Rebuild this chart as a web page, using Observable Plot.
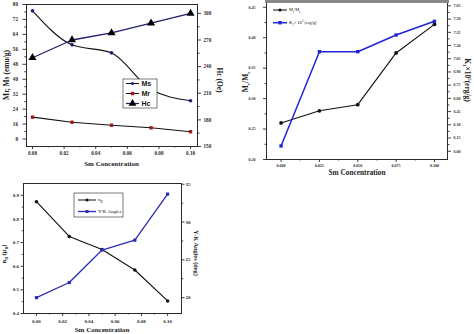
<!DOCTYPE html>
<html><head><meta charset="utf-8">
<script src="https://cdn.jsdelivr.net/npm/d3@7"></script>
<script src="https://cdn.jsdelivr.net/npm/@observablehq/plot@0.6"></script>
<style>
html,body{margin:0;padding:0;background:#fff;}
#root{position:relative;width:474px;height:334px;overflow:hidden;background:#fff;}
#root > svg{position:absolute;}
</style></head><body><div id="root"></div>
<script>
// ---- data ----
const sm = [0, 0.025, 0.05, 0.075, 0.1];
const ms = [76.6, 58.4, 54.1, 34.5, 28.5];
const mr = [19.7, 17.0, 15.4, 14.0, 11.9];
const hc = [250, 270, 278, 289, 300];
const ratio = [0.26, 0.28, 0.29, 0.375, 0.422];
const k1 = [6.06, 7.13, 7.13, 7.32, 7.475];
const nb = [0.873, 0.726, 0.671, 0.584, 0.453];
const yk = [20.0, 22.0, 26.3, 27.6, 33.7];
// ---- tick labels ----
const xTicksA = [0, 0.02, 0.04, 0.06, 0.08, 0.10];
const yTicksMs = [8, 16, 24, 32, 40, 48, 56, 64, 72, 80];
const yTicksHc = [150, 180, 210, 240, 270, 300];
const xTicksB = [0, 0.025, 0.05, 0.075, 0.1];
const yTicksRatio = [0.20, 0.25, 0.30, 0.35, 0.40, 0.45];
const yTicksK1 = [6.00, 6.15, 6.30, 6.45, 6.60, 6.75, 6.90, 7.05, 7.20, 7.35, 7.50, 7.65];
const xTicksC = [0, 0.02, 0.04, 0.06, 0.08, 0.10];
const yTicksNb = [0.4, 0.5, 0.6, 0.7, 0.8, 0.9];
const yTicksYk = [20, 25, 30, 35];

const mid = (t) => d3.pairs(t).map(([a, b]) => (a + b) / 2);
const root = document.getElementById("root");
const AX = "#2a2a2a";
const FONT = "Liberation Serif";

function layer(o) {
  const p = Plot.plot({
    width: o.width, height: o.height,
    marginLeft: o.m[3], marginRight: o.m[1], marginTop: o.m[0], marginBottom: o.m[2],
    x: {domain: o.x, axis: null},
    y: {domain: o.y, axis: null},
    style: {background: "transparent", overflow: "visible", fontFamily: FONT},
    marks: o.marks
  });
  p.style.left = o.left + "px";
  p.style.top = o.top + "px";
  root.appendChild(p);
}
function axes(o) {
  const res = [];
  if (o.xt) {
    res.push(Plot.axisX({ticks: o.xt, tickFormat: d3.format(o.xfmt), tickSize: o.xsize, tickPadding: o.xpad, fontSize: o.fs, fontWeight: "bold", color: AX, strokeWidth: 0.9, label: null}));
    res.push(Plot.axisX({ticks: mid(o.xt), tickFormat: () => "", tickSize: o.xsize / 2, color: AX, strokeWidth: 0.9, label: null}));
  }
  res.push(Plot.axisY({anchor: o.anchorY, ticks: o.yt, tickFormat: d3.format(o.yfmt), tickSize: o.ysize, tickPadding: o.ypad, fontSize: o.fs, fontWeight: "bold", color: AX, strokeWidth: 0.9, label: null}));
  res.push(Plot.axisY({anchor: o.anchorY, ticks: mid(o.yt), tickFormat: () => "", tickSize: o.ysize / 2, color: AX, strokeWidth: 0.9, label: null}));
  return res;
}

// ---------- Panel A (top-left) ----------
const rowsA = sm.map((x, i) => ({x, ms: ms[i], mr: mr[i], hc: hc[i]}));
const A = {left: 0, top: 0, width: 240, height: 170, m: [4, 43, 24, 26], x: [-0.0038, 0.1044]};
layer({...A, y: [4, 80], marks: [
  Plot.frame({stroke: AX, strokeWidth: 1}),
  ...axes({anchorY: "left", xt: xTicksA, xfmt: ".2f", yt: yTicksMs, yfmt: "d", fs: 5.2, xsize: 3, xpad: 2, ysize: 3.5, ypad: 5}),
  Plot.line(rowsA, {x: "x", y: "ms", stroke: "#111", strokeWidth: 1.1, curve: "monotone-x"}),
  Plot.dot(rowsA, {x: "x", y: "ms", r: 1.8, fill: "#1b1b7a", stroke: "none"}),
  Plot.line(rowsA, {x: "x", y: "mr", stroke: "#111", strokeWidth: 1.1}),
  Plot.dot(rowsA, {x: "x", y: "mr", r: 1.9, symbol: "square", fill: "#a01818", stroke: "none"})
]});
layer({...A, y: [150, 310], marks: [
  ...axes({anchorY: "right", yt: yTicksHc, yfmt: "d", fs: 5.2, ysize: 3, ypad: 3}),
  Plot.line(rowsA, {x: "x", y: "hc", stroke: "#1f1f6e", strokeWidth: 1.3}),
  Plot.dot(rowsA, {x: "x", y: "hc", r: 3, symbol: "triangle", fill: "#000", stroke: "none"})
]});

// ---------- Panel B (top-right) ----------
const rowsB = sm.map((x, i) => ({x, ratio: ratio[i], k1: k1[i]}));
const B = {left: 240, top: 0, width: 234, height: 180, m: [1, 27, 21, 26], x: [-0.0095, 0.1085]};
layer({...B, y: [0.20, 0.4595], marks: [
  Plot.frame({stroke: AX, strokeWidth: 1}),
  Plot.frame({anchor: "top", stroke: "#888", strokeWidth: 3}),
  ...axes({anchorY: "left", xt: xTicksB, xfmt: ".3f", yt: yTicksRatio, yfmt: ".2f", fs: 4, xsize: 3, xpad: 2, ysize: 3, ypad: 8}),
  Plot.line(rowsB, {x: "x", y: "ratio", stroke: "#111", strokeWidth: 1.1}),
  Plot.dot(rowsB, {x: "x", y: "ratio", r: 1.9, fill: "#111", stroke: "none"})
]});
layer({...B, y: [5.906, 7.70], marks: [
  ...axes({anchorY: "right", yt: yTicksK1, yfmt: ".2f", fs: 4, ysize: 3, ypad: 3}),
  Plot.line(rowsB, {x: "x", y: "k1", stroke: "#2323d8", strokeWidth: 1.5}),
  Plot.dot(rowsB, {x: "x", y: "k1", r: 1.9, symbol: "square", fill: "#2323d8", stroke: "none"})
]});

// ---------- Panel C (bottom-left) ----------
const rowsC = sm.map((x, i) => ({x, nb: nb[i], yk: yk[i]}));
const C = {left: 0, top: 170, width: 240, height: 164, m: [13, 59, 21, 23], x: [-0.0099, 0.1106]};
layer({...C, y: [0.4, 0.95], marks: [
  Plot.frame({stroke: AX, strokeWidth: 1}),
  ...axes({anchorY: "left", xt: xTicksC, xfmt: ".2f", yt: yTicksNb, yfmt: ".1f", fs: 5, xsize: 3, xpad: 3, ysize: 2.5, ypad: 2}),
  Plot.line(rowsC, {x: "x", y: "nb", stroke: "#111", strokeWidth: 1.1}),
  Plot.dot(rowsC, {x: "x", y: "nb", r: 1.8, fill: "#111", stroke: "none"})
]});
layer({...C, y: [17.9, 35.1], marks: [
  ...axes({anchorY: "right", yt: yTicksYk, yfmt: "d", fs: 5, ysize: 2.5, ypad: 1.5}),
  Plot.line(rowsC, {x: "x", y: "yk", stroke: "#2b2bb5", strokeWidth: 1.3}),
  Plot.dot(rowsC, {x: "x", y: "yk", r: 1.8, symbol: "square", fill: "#2b2bb5", stroke: "none"})
]});

// ---------- titles & legends overlay ----------
const ov = d3.create("svg").attr("width", 474).attr("height", 334)
  .style("left", "0px").style("top", "0px").style("pointer-events", "none");
function addParts(t, parts, size) {
  for (const p of parts) {
    const [s, kind] = Array.isArray(p) ? p : [p, null];
    const ts = t.append("tspan").text(s);
    if (kind === "sub") ts.attr("baseline-shift", "sub").attr("font-size", size * 0.65);
    if (kind === "sup") ts.attr("baseline-shift", "super").attr("font-size", size * 0.65);
  }
}
function title(x, y, rot, parts, size, weight, family) {
  const t = ov.append("text").attr("transform", `translate(${x},${y}) rotate(${rot})`)
    .attr("text-anchor", "middle").attr("dominant-baseline", "middle")
    .attr("font-family", family || FONT).attr("font-size", size).attr("font-weight", weight || "bold").attr("fill", "#222");
  addParts(t, parts, size);
  return t;
}
// Panel A
title(7, 75, -90, ["Mr, Ms (emu/g)"], 7.5);
title(219, 80, 90, ["Hc (Oe)"], 7.5);
title(111.5, 164, 0, ["Sm Concentration"], 7);
// Panel B
title(246, 82, -90, ["M", ["r", "sub"], "/M", ["s", "sub"]], 7.5);
title(467, 80, 90, ["K", ["1", "sub"], "×10", ["5", "sup"], "(erg/g)"], 7.5);
title(357, 173, 0, ["Sm Concentration"], 7.3);
// Panel C
title(5, 254, -90, ["n", ["B", "sub"], " (μ", ["B", "sub"], ")"], 6.5);
title(195, 253, 90, ["Y-K Angles (deg)"], 6.3);
title(102, 330, 0, ["Sm Concentration"], 7);

function sym(g, kind, x, y, color, r) {
  if (kind === "circle") g.append("circle").attr("cx", x).attr("cy", y).attr("r", r).attr("fill", color);
  else if (kind === "square") g.append("rect").attr("x", x - r).attr("y", y - r).attr("width", 2 * r).attr("height", 2 * r).attr("fill", color);
  else g.append("path").attr("d", d3.symbol(d3.symbolTriangle, r * r * 4)()).attr("transform", `translate(${x},${y})`).attr("fill", color);
}
function legend(box, entries, lx0, lx1, tx, size, weight, family) {
  const g = ov.append("g");
  if (box) g.append("rect").attr("x", box[0]).attr("y", box[1]).attr("width", box[2]).attr("height", box[3])
    .attr("fill", "#fff").attr("stroke", "#222").attr("stroke-width", 0.6);
  for (const e of entries) {
    g.append("line").attr("x1", lx0).attr("x2", lx1).attr("y1", e.y).attr("y2", e.y).attr("stroke", e.line).attr("stroke-width", e.w || 1);
    sym(g, e.sym, (lx0 + lx1) / 2, e.y, e.fill, e.r);
    const t = g.append("text").attr("x", tx).attr("y", e.y).attr("dominant-baseline", "middle")
      .attr("font-family", family).attr("font-size", size).attr("font-weight", weight).attr("fill", "#111");
    addParts(t, e.label, size);
  }
}
legend([123, 79, 34, 29], [
  {y: 83.5, line: "#111", sym: "circle", fill: "#1b1b7a", r: 1.6, label: ["Ms"]},
  {y: 93.5, line: "#111", sym: "square", fill: "#a01818", r: 1.7, label: ["Mr"]},
  {y: 103.5, line: "#1f1f6e", sym: "triangle", fill: "#000", r: 2.6, w: 1.2, label: ["Hc"]}
], 126, 139, 141.5, 7, "bold", "Liberation Sans");
legend(null, [
  {y: 10, line: "#111", sym: "circle", fill: "#111", r: 1.6, label: ["M", ["r", "sub"], "/M", ["s", "sub"]]},
  {y: 22.7, line: "#2323d8", sym: "square", fill: "#2323d8", r: 1.7, w: 1.5, label: ["K", ["1", "sub"], "× 10", ["5", "sup"], " (erg/g)"]}
], 273, 287, 289, 4.5, "normal", FONT);
legend([74, 193, 49, 24], [
  {y: 200, line: "#111", sym: "circle", fill: "#111", r: 1.5, label: ["n", ["B", "sub"]]},
  {y: 211.5, line: "#2b2bb5", sym: "square", fill: "#2b2bb5", r: 1.5, w: 1.3, label: ["Y-K Angles"]}
], 78, 96, 98, 5, "normal", FONT);
root.appendChild(ov.node());
</script></body></html>
